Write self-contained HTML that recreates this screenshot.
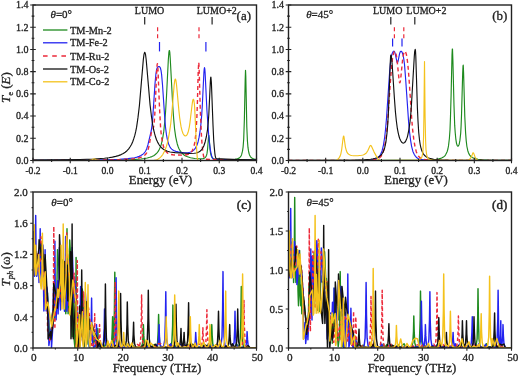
<!DOCTYPE html><html><head><meta charset="utf-8"><style>html,body{margin:0;padding:0;background:#fff}svg{display:block;filter:blur(0.35px)}</style></head><body>
<svg width="520" height="377" viewBox="0 0 520 377" font-family='"Liberation Serif", "DejaVu Serif", serif'>
<style>text{stroke:#222;stroke-width:0.3px;paint-order:stroke}</style>
<rect width="520" height="377" fill="#fff"/>
<defs>
<clipPath id="cla"><rect x="33.0" y="4.5" width="223.5" height="156.0"/></clipPath>
<clipPath id="clb"><rect x="288.5" y="4.5" width="223.0" height="156.0"/></clipPath>
<clipPath id="clc"><rect x="33.0" y="191.5" width="223.5" height="156.5"/></clipPath>
<clipPath id="cld"><rect x="288.5" y="191.5" width="223.0" height="156.5"/></clipPath>
</defs>
<g clip-path="url(#cla)" fill="none" stroke-width="1.15" stroke-linejoin="round">
<path d="M33.0,160.4 L102.7,160.2 L120.5,160.0 L132.4,159.6 L141.0,159.0 L144.5,158.5 L147.3,158.0 L149.8,157.3 L151.9,156.6 L153.7,155.7 L155.3,154.5 L156.8,153.1 L158.2,151.4 L159.4,149.3 L160.4,146.9 L161.3,144.2 L162.2,140.7 L162.9,136.8 L163.7,131.9 L164.7,122.5 L165.6,111.3 L166.5,96.3 L168.3,60.2 L168.9,52.4 L169.2,50.7 L169.3,50.5 L169.5,50.7 L169.8,52.4 L170.2,57.8 L172.8,106.7 L173.7,119.1 L174.5,128.3 L175.7,136.8 L176.5,140.6 L177.2,143.7 L178.1,146.5 L179.0,148.7 L180.1,150.7 L181.3,152.4 L183.0,154.2 L185.1,155.7 L187.5,156.8 L190.5,157.7 L194.8,158.5 L199.4,158.8 L202.7,158.7 L203.8,158.4 L204.6,158.0 L205.5,157.3 L206.1,156.3 L206.6,155.2 L207.0,153.4 L207.6,149.0 L208.5,137.0 L208.8,135.2 L209.1,137.1 L210.0,149.1 L210.6,153.5 L211.1,155.3 L211.5,156.5 L212.1,157.5 L213.0,158.3 L213.9,158.8 L215.1,159.2 L218.4,159.6 L224.9,159.8 L231.6,159.7 L235.0,159.4 L237.4,158.8 L239.1,158.1 L240.4,156.9 L241.0,156.0 L241.6,154.7 L242.5,151.2 L243.1,147.0 L243.7,139.3 L244.4,118.5 L245.2,79.3 L245.5,70.4 L245.6,71.4 L245.8,76.0 L246.8,126.7 L247.4,140.6 L248.0,147.7 L248.5,150.9 L248.9,153.0 L249.5,154.9 L250.4,156.6 L251.4,157.8 L252.6,158.5 L254.3,159.1 L256.5,159.6" stroke="#1e8a1e"/>
<path d="M33.0,160.3 L90.7,160.0 L107.4,159.7 L119.4,159.3 L128.1,158.6 L134.5,157.7 L137.0,157.1 L139.1,156.4 L140.9,155.6 L142.5,154.6 L143.9,153.4 L145.0,152.0 L145.9,150.5 L146.8,148.4 L147.9,144.9 L151.2,131.0 L152.1,124.7 L152.8,116.8 L155.0,83.9 L155.9,74.0 L156.5,70.1 L157.1,68.0 L157.4,67.4 L157.9,66.8 L158.8,66.5 L159.2,66.6 L159.6,66.8 L160.1,67.4 L160.4,68.0 L161.0,70.3 L161.6,74.4 L162.5,84.7 L164.9,120.1 L165.6,128.0 L166.5,134.9 L167.4,139.7 L168.6,143.9 L169.9,146.8 L170.8,148.1 L171.7,149.1 L172.9,150.0 L174.3,150.8 L175.9,151.4 L178.0,151.9 L181.0,152.4 L183.9,152.7 L186.3,152.8 L188.4,152.6 L189.9,152.3 L191.2,151.8 L192.4,151.2 L193.5,150.4 L194.5,149.3 L195.4,148.1 L196.9,145.2 L198.1,141.7 L199.1,137.2 L200.0,131.7 L200.9,124.1 L201.7,115.1 L202.3,105.7 L203.9,72.7 L204.2,69.0 L204.5,67.6 L204.8,68.9 L205.1,72.6 L206.9,110.0 L208.7,135.2 L209.6,144.1 L210.5,150.6 L211.4,155.0 L211.8,156.6 L212.4,158.0 L212.8,158.7 L213.4,159.1 L216.0,159.3 L232.4,159.8 L256.5,160.1" stroke="#2323f0"/>
<path d="M33.0,160.4 L94.7,160.2 L111.7,159.9 L123.3,159.6 L131.5,159.1 L137.3,158.3 L139.5,157.8 L141.3,157.2 L143.0,156.5 L144.3,155.6 L145.5,154.5 L146.5,153.1 L147.4,151.4 L148.2,149.3 L149.4,144.4 L151.3,132.8 L151.8,131.4 L152.6,130.3 L153.1,129.3 L153.8,125.6 L154.4,119.9 L155.0,111.0 L156.8,69.5 L157.1,65.1 L157.4,63.6 L157.7,65.4 L158.0,70.0 L159.5,107.6 L160.5,126.1 L161.1,133.0 L161.9,139.0 L162.8,143.9 L163.8,147.5 L165.0,150.1 L166.5,152.1 L167.4,152.9 L168.4,153.6 L170.8,154.4 L172.8,154.8 L175.3,155.0 L183.0,155.2 L186.6,154.8 L188.1,154.3 L189.3,153.8 L190.5,152.9 L191.5,151.7 L192.4,150.3 L193.3,148.2 L194.1,145.7 L194.7,142.9 L195.7,135.2 L196.3,127.8 L196.9,116.5 L197.5,99.3 L198.2,71.7 L198.7,62.4 L198.8,62.5 L199.1,67.8 L200.3,110.4 L201.5,136.6 L202.1,145.0 L202.9,152.1 L203.6,156.3 L204.3,158.5 L204.6,158.9 L205.1,159.2 L215.7,159.7 L232.2,160.0 L256.5,160.3" stroke="#ec2a3a" stroke-dasharray="4,3" stroke-width="1.4"/>
<path d="M33.0,160.1 L60.3,159.9 L79.8,159.5 L93.9,159.0 L104.4,158.2 L108.7,157.7 L112.4,157.1 L115.7,156.4 L118.5,155.6 L121.1,154.6 L123.3,153.5 L125.2,152.2 L127.0,150.7 L128.7,148.9 L130.1,146.8 L131.5,144.5 L132.7,141.8 L133.7,138.9 L134.8,135.4 L135.7,131.7 L136.6,127.2 L138.0,117.4 L139.4,105.6 L143.3,59.9 L144.0,54.3 L144.5,52.7 L144.7,52.3 L145.0,52.6 L145.5,54.3 L146.2,59.8 L150.1,105.1 L151.5,116.7 L152.8,125.5 L153.7,130.0 L154.6,133.7 L155.5,136.8 L156.5,139.8 L157.6,142.1 L158.8,144.3 L160.1,146.2 L161.6,147.8 L163.4,149.3 L165.3,150.4 L167.5,151.3 L170.1,152.0 L175.1,152.6 L189.7,153.5 L194.2,153.3 L196.0,153.0 L197.5,152.6 L198.8,152.0 L200.0,151.2 L201.1,150.3 L202.1,149.0 L203.0,147.5 L203.8,146.0 L205.2,141.7 L206.4,136.5 L207.5,129.8 L208.2,122.7 L208.8,114.7 L210.3,82.7 L210.6,78.1 L210.8,77.1 L210.9,77.1 L211.4,82.8 L213.0,125.0 L213.7,140.0 L214.2,146.6 L214.8,152.8 L215.2,155.8 L215.8,158.1 L216.3,158.6 L226.0,159.1 L239.2,159.6 L256.5,159.9" stroke="#111111"/>
<path d="M33.0,160.5 L86.3,160.5 L88.6,160.4 L90.7,160.0 L91.9,159.7 L93.5,159.0 L94.1,158.9 L94.7,159.0 L96.3,159.7 L97.8,160.1 L99.3,160.4 L101.1,160.5 L152.3,160.5 L154.0,160.4 L155.5,160.1 L156.8,159.7 L158.2,159.0 L159.8,157.9 L161.4,156.3 L162.8,154.5 L164.1,152.1 L165.3,149.4 L166.4,146.4 L167.4,142.8 L168.3,138.9 L169.6,131.7 L170.7,124.0 L171.9,112.2 L174.1,85.6 L174.7,80.9 L175.0,79.6 L175.3,79.0 L175.6,79.3 L175.9,80.4 L176.5,84.5 L178.9,110.6 L179.6,117.3 L180.4,122.7 L181.1,126.9 L182.0,130.6 L183.0,133.5 L184.1,135.2 L184.7,135.7 L185.3,135.9 L185.9,135.8 L186.5,135.4 L187.1,134.6 L187.5,133.8 L188.4,131.2 L189.3,127.1 L190.0,122.3 L192.0,105.5 L192.6,101.2 L192.9,99.9 L193.2,99.2 L193.3,99.2 L193.5,99.3 L193.8,100.2 L194.4,104.0 L194.7,108.1 L196.2,141.3 L196.8,151.7 L197.3,158.1 L197.6,159.8 L197.9,160.5 L256.5,160.5" stroke="#f4c21c"/>
</g>
<g clip-path="url(#clb)" fill="none" stroke-width="1.15" stroke-linejoin="round">
<path d="M288.5,160.5 L387.2,160.4 L421.6,160.1 L430.6,159.8 L436.6,159.2 L438.8,158.9 L440.6,158.4 L442.1,157.8 L443.4,157.1 L444.6,156.1 L445.6,154.8 L446.5,153.1 L447.3,151.2 L447.9,149.0 L448.5,145.9 L449.4,138.3 L450.0,129.8 L450.5,116.3 L451.1,95.3 L452.0,55.4 L452.3,49.1 L452.5,49.0 L452.9,60.6 L454.0,105.8 L454.7,125.4 L455.2,132.5 L455.8,138.8 L456.5,143.3 L457.2,145.5 L457.7,146.1 L458.0,146.2 L458.3,146.0 L458.7,145.4 L459.2,144.2 L459.9,140.4 L460.7,133.1 L461.1,125.9 L461.5,115.5 L462.7,72.7 L463.0,66.0 L463.2,65.1 L463.3,66.1 L463.6,73.0 L464.8,116.7 L465.6,132.9 L466.2,140.6 L466.9,146.5 L467.8,150.7 L468.4,152.5 L469.0,153.9 L469.7,155.1 L470.5,156.0 L471.4,156.8 L472.3,157.4 L473.4,158.0 L474.8,158.5 L478.0,159.2 L482.5,159.7 L488.9,160.0 L511.5,160.3" stroke="#1e8a1e"/>
<path d="M288.5,160.5 L350.6,160.5 L366.1,160.3 L370.9,160.0 L374.1,159.4 L376.7,158.5 L377.7,157.9 L378.6,157.1 L379.6,155.9 L380.5,154.5 L381.4,152.6 L382.2,150.5 L383.5,144.8 L384.7,137.0 L385.6,128.7 L386.5,118.2 L389.7,70.8 L390.6,61.8 L391.5,56.0 L392.1,53.7 L392.9,51.9 L393.6,51.2 L394.1,51.3 L394.4,51.5 L394.8,52.3 L395.2,53.7 L396.9,61.7 L397.2,62.5 L397.5,62.6 L397.8,62.2 L398.1,61.2 L399.7,53.2 L400.3,51.7 L400.6,51.4 L401.0,51.2 L401.6,51.6 L402.1,52.2 L403.0,54.7 L403.7,58.5 L404.5,64.4 L405.6,78.5 L408.6,121.9 L409.5,131.7 L410.6,140.3 L411.6,146.3 L412.9,151.4 L414.3,154.5 L415.2,155.9 L416.1,157.0 L416.9,157.8 L418.0,158.4 L419.2,159.0 L420.5,159.4 L423.8,160.0 L428.7,160.3 L444.6,160.5 L511.5,160.5" stroke="#2323f0"/>
<path d="M288.5,160.5 L353.3,160.5 L368.3,160.3 L372.9,160.0 L376.1,159.4 L378.4,158.5 L379.5,157.8 L380.4,157.0 L381.3,156.0 L382.2,154.5 L383.5,151.1 L384.8,145.7 L385.9,139.2 L386.9,130.1 L387.8,119.7 L390.5,80.0 L391.7,65.4 L392.4,59.0 L393.2,54.8 L393.9,52.3 L394.4,51.5 L394.8,51.2 L395.2,51.5 L395.7,52.4 L396.4,55.7 L397.2,61.4 L399.0,79.3 L399.4,81.9 L399.7,82.7 L399.9,82.7 L400.3,81.6 L400.7,78.8 L402.5,60.7 L403.1,56.1 L403.6,53.8 L404.2,51.9 L404.5,51.4 L404.9,51.2 L405.2,51.4 L405.6,52.1 L406.4,54.4 L407.4,60.7 L408.3,69.4 L409.2,81.0 L411.7,118.7 L412.6,129.3 L413.7,138.7 L414.9,146.1 L416.2,151.4 L416.9,153.4 L417.7,154.9 L418.6,156.3 L419.6,157.4 L420.5,158.1 L421.6,158.7 L423.9,159.5 L427.2,160.0 L431.8,160.3 L447.0,160.5 L511.5,160.5" stroke="#ec2a3a" stroke-dasharray="4,3" stroke-width="1.4"/>
<path d="M288.5,160.4 L342.0,160.3 L355.3,160.1 L364.2,159.7 L370.6,159.2 L373.1,158.8 L375.2,158.3 L377.0,157.7 L378.4,157.0 L379.8,156.2 L381.0,155.1 L382.0,153.8 L383.1,152.1 L383.9,150.0 L384.7,147.7 L385.9,142.1 L386.9,134.0 L387.7,125.0 L388.3,114.8 L389.0,97.6 L390.2,64.0 L390.6,56.3 L390.8,55.2 L390.9,55.0 L391.2,55.6 L391.5,57.3 L392.1,63.5 L394.4,98.2 L395.4,111.6 L396.3,120.5 L397.3,128.2 L398.1,132.3 L398.8,135.5 L399.7,138.5 L400.6,140.5 L401.5,142.0 L402.5,142.9 L403.0,143.0 L403.6,143.1 L404.2,142.8 L404.6,142.5 L405.5,141.5 L406.2,140.1 L407.0,138.1 L407.6,136.1 L408.9,129.6 L410.0,121.9 L410.9,112.7 L411.7,100.5 L414.3,56.2 L414.7,51.4 L415.2,49.4 L415.3,49.6 L415.5,50.7 L415.8,56.2 L417.4,107.9 L418.0,121.0 L418.7,132.2 L419.6,140.7 L420.2,144.5 L420.8,147.3 L421.6,150.0 L422.3,151.9 L423.2,153.6 L424.2,155.0 L425.3,156.1 L426.5,156.9 L427.9,157.7 L429.6,158.3 L433.7,159.2 L439.8,159.7 L448.2,160.1 L460.5,160.3 L511.5,160.4" stroke="#111111"/>
<path d="M288.5,160.5 L335.0,160.5 L336.5,160.2 L337.7,159.4 L338.9,158.1 L340.1,156.1 L340.8,154.1 L341.7,149.5 L343.1,138.0 L343.5,136.0 L343.7,136.0 L344.0,137.0 L345.4,147.1 L346.5,151.1 L347.2,152.7 L348.1,153.8 L349.2,154.6 L350.5,155.2 L351.8,155.5 L353.6,155.7 L357.9,155.7 L361.6,155.3 L363.0,155.0 L364.2,154.5 L365.7,153.6 L366.8,152.3 L367.9,150.5 L369.8,146.2 L370.3,145.6 L370.7,145.4 L371.2,145.7 L371.6,146.5 L374.1,152.1 L377.6,158.4 L378.6,159.6 L379.2,160.0 L379.9,160.3 L381.4,160.5 L403.4,160.4 L412.8,160.3 L415.8,160.2 L417.8,159.9 L419.3,159.5 L420.4,159.0 L421.0,158.4 L421.6,157.6 L422.0,156.5 L422.4,154.7 L422.9,151.4 L423.3,144.6 L423.6,135.4 L423.9,117.6 L424.5,61.6 L425.1,117.6 L425.6,140.7 L426.0,149.7 L426.5,153.8 L427.1,156.5 L427.5,157.6 L428.1,158.4 L429.0,159.2 L430.3,159.7 L432.1,160.0 L434.6,160.2 L445.3,160.4 L467.0,160.4 L468.1,160.2 L469.0,159.8 L469.7,159.2 L470.6,158.2 L471.5,156.7 L472.8,153.1 L473.1,152.7 L473.3,152.7 L473.7,153.4 L475.1,157.0 L476.0,158.5 L477.0,159.8 L477.6,160.2 L478.2,160.4 L511.5,160.5" stroke="#f4c21c"/>
</g>
<g clip-path="url(#clc)" fill="none" stroke-width="1.45" stroke-linejoin="round">
<path d="M33.0,258.2 L33.5,267.8 L36.0,256.1 L36.4,275.8 L38.4,260.1 L39.0,255.6 L40.9,255.9 L41.2,242.1 L42.9,259.0 L43.3,256.6 L45.3,268.0 L45.6,306.7 L47.0,294.8 L47.5,292.9 L49.2,327.5 L49.6,337.0 L51.7,325.9 L52.1,314.7 L54.3,304.7 L54.8,318.9 L56.9,289.8 L57.5,249.7 L59.6,275.1 L60.2,299.6 L62.0,265.5 L62.5,259.9 L64.6,267.0 L64.9,299.0 L65.8,313.7 L66.6,288.2 L67.0,228.7 L67.4,288.2 L68.1,313.7 L69.3,273.1 L69.7,240.0 L71.8,274.9 L72.2,336.7 L73.7,292.9 L74.2,340.5 L75.0,348.0 L75.7,320.9 L76.1,257.5 L76.5,320.9 L77.3,348.0 L79.0,315.8 L79.5,346.7 L82.0,307.8 L82.3,289.0 L83.7,316.1 L84.0,347.1 L86.4,318.8 L86.9,344.2 L88.8,325.9 L89.2,346.9 L90.7,329.9 L91.2,327.8 L93.1,334.8 L93.4,344.0 L95.2,338.7 L95.6,335.2 L95.8,346.8 L96.8,344.6 L97.5,337.9 L97.8,328.5 L98.2,337.9 L98.8,344.6 L99.8,346.8 L100.0,342.6 L100.6,347.0 L102.5,347.3 L104.3,346.7 L105.7,343.9 L106.9,347.5 L108.6,345.9 L109.9,344.8 L110.6,346.6 L111.6,343.0 L112.2,332.0 L112.6,316.8 L112.8,345.7 L113.8,336.7 L114.4,309.8 L114.8,272.3 L115.2,309.8 L115.8,336.7 L116.8,345.7 L117.8,345.4 L119.8,347.5 L121.9,347.5 L123.2,347.5 L125.3,347.5 L126.9,345.2 L128.9,347.5 L130.6,347.5 L132.8,345.2 L134.1,347.5 L135.9,347.5 L137.3,347.5 L138.5,347.5 L139.8,347.5 L141.4,346.8 L142.4,344.1 L143.1,335.9 L143.4,324.6 L143.8,335.9 L144.4,344.1 L145.4,346.8 L146.1,344.2 L148.4,347.5 L150.9,347.5 L153.3,345.4 L154.6,344.6 L156.6,346.6 L157.6,342.6 L158.2,330.8 L158.6,314.5 L159.0,330.8 L159.6,342.6 L160.6,346.6 L160.8,347.5 L162.0,347.5 L163.9,347.5 L165.2,347.5 L166.4,347.5 L168.3,347.5 L169.5,344.7 L170.9,346.4 L171.9,341.3 L172.6,326.2 L172.9,305.1 L173.3,326.2 L173.9,341.3 L174.9,346.4 L175.8,346.2 L178.0,347.5 L180.0,347.5 L182.7,347.5 L184.1,345.0 L185.4,347.5 L187.0,345.0 L189.2,344.4 L190.6,347.5 L192.3,346.2 L194.4,344.4 L196.6,347.5 L198.2,347.5 L199.8,347.3 L201.6,346.3 L202.7,344.6 L204.1,346.5 L206.5,347.5 L208.5,343.9 L209.6,347.5 L209.8,346.8 L210.8,344.1 L211.4,335.9 L211.8,324.6 L212.2,335.9 L212.8,344.1 L213.8,346.8 L214.4,347.5 L215.9,344.7 L218.5,347.5 L219.7,347.5 L222.2,347.5 L224.3,347.5 L226.0,347.5 L228.1,347.5 L230.4,347.5 L232.1,347.5 L234.6,347.5 L236.5,343.8 L238.8,347.5 L239.3,346.0 L240.3,338.7 L240.9,316.8 L241.3,286.4 L241.7,316.8 L242.3,338.7 L243.3,346.0 L243.4,347.5 L245.7,347.5 L247.4,347.5 L250.0,348.0 L252.2,348.0 L253.9,348.0 L256.2,348.0 L256.5,348.0" stroke="#1e8a1e"/>
<path d="M33.0,249.8 L33.6,231.7 L34.5,276.2 L35.3,258.0 L35.7,215.4 L36.1,258.0 L36.8,276.2 L38.3,254.9 L38.6,257.4 L39.0,282.5 L39.7,266.3 L40.2,228.7 L40.6,266.3 L41.3,282.5 L42.5,258.6 L42.9,245.0 L43.9,310.9 L44.7,292.6 L45.1,249.7 L45.5,292.6 L46.2,310.9 L46.8,287.0 L47.2,288.8 L48.5,317.8 L48.9,345.5 L51.2,328.9 L51.5,347.8 L52.9,325.3 L53.5,289.3 L53.7,319.7 L54.5,296.1 L54.9,241.1 L55.3,296.1 L56.1,319.7 L57.6,280.8 L58.1,313.9 L58.2,310.0 L59.0,291.2 L59.4,247.4 L59.8,291.2 L60.5,310.0 L62.8,282.3 L63.4,296.4 L64.5,311.3 L65.2,288.9 L65.6,236.5 L66.0,288.9 L66.8,311.3 L69.1,279.1 L69.4,260.0 L71.8,286.4 L72.2,247.6 L74.1,302.2 L74.6,276.9 L77.3,318.8 L77.7,317.7 L80.1,319.5 L80.6,286.6 L82.0,313.4 L82.4,308.3 L84.8,318.3 L85.3,292.5 L87.4,322.1 L87.8,318.5 L89.5,347.0 L90.6,341.0 L91.2,323.0 L91.6,298.1 L91.9,323.0 L92.5,341.0 L93.6,347.0 L94.5,346.8 L95.5,344.1 L96.1,335.9 L96.5,324.6 L96.8,335.9 L97.5,344.1 L98.5,346.8 L99.7,342.9 L100.1,342.3 L101.5,347.5 L102.5,346.5 L103.5,341.9 L104.2,328.1 L104.5,309.0 L104.9,328.1 L105.5,341.9 L106.5,346.5 L107.5,346.9 L110.1,346.2 L112.0,343.8 L114.1,345.8 L115.2,337.5 L115.8,312.5 L116.1,277.8 L116.5,312.5 L117.1,337.5 L118.2,345.8 L119.2,346.4 L121.7,347.5 L123.9,347.5 L126.0,347.1 L128.6,345.9 L130.3,346.6 L131.6,346.8 L133.4,347.5 L134.9,347.5 L137.2,347.5 L138.7,347.5 L140.1,346.6 L142.1,347.4 L144.6,347.5 L145.8,347.5 L147.7,346.8 L150.3,347.5 L151.8,347.5 L154.4,347.5 L156.9,344.7 L157.0,346.8 L158.1,344.1 L158.7,335.9 L159.1,324.6 L159.4,335.9 L160.0,344.1 L161.1,346.8 L161.5,347.5 L163.7,346.1 L164.8,339.5 L165.4,319.5 L165.8,291.8 L166.1,319.5 L166.7,339.5 L167.8,346.1 L168.7,347.5 L170.6,343.8 L172.2,347.5 L174.5,347.5 L176.5,347.5 L178.9,344.5 L181.2,344.3 L182.9,347.5 L184.5,344.8 L186.3,347.5 L187.7,347.5 L189.5,344.5 L192.0,346.3 L193.7,346.9 L194.7,345.1 L195.4,339.8 L195.7,332.4 L196.1,339.8 L196.7,345.1 L197.7,346.9 L198.5,347.5 L201.1,347.5 L203.1,347.4 L205.2,347.2 L206.9,345.9 L209.5,347.5 L212.2,345.3 L213.4,347.3 L214.6,347.4 L216.3,345.3 L217.5,344.2 L218.7,347.5 L219.8,347.5 L221.0,345.7 L222.0,336.6 L222.6,309.4 L223.0,271.6 L223.3,309.4 L224.0,336.6 L225.0,345.7 L227.2,345.9 L229.5,347.5 L232.1,346.7 L233.0,346.5 L234.1,342.2 L234.7,329.3 L235.0,311.3 L235.4,329.3 L236.0,342.2 L237.1,346.5 L238.0,347.5 L240.5,347.5 L243.0,347.5 L244.9,346.8 L245.1,346.9 L246.1,345.0 L246.8,339.4 L247.1,331.6 L247.5,339.4 L248.1,345.0 L249.1,346.9 L249.7,348.0 L251.1,348.0 L253.6,348.0 L255.1,348.0 L256.5,348.0 L256.5,348.0" stroke="#2323f0"/>
<path d="M33.0,258.2 L33.3,267.8 L35.4,256.4 L35.8,275.6 L37.9,253.8 L38.5,271.6 L40.5,258.5 L41.0,236.7 L43.3,263.7 L43.7,289.9 L45.1,272.4 L45.6,308.7 L47.1,294.8 L47.6,330.9 L49.5,331.6 L49.8,340.4 L51.8,329.1 L52.3,315.6 L52.6,328.9 L53.4,298.1 L53.8,226.3 L54.2,298.1 L54.9,328.9 L55.1,314.6 L57.7,288.5 L58.3,302.8 L60.3,274.5 L60.9,299.5 L63.1,263.0 L63.5,294.4 L66.1,272.2 L66.7,232.9 L68.6,277.0 L69.2,313.0 L71.3,276.7 L71.8,254.3 L73.7,293.2 L74.1,273.1 L75.6,310.4 L76.0,295.7 L76.1,348.0 L76.8,321.8 L77.3,260.6 L77.7,321.8 L78.4,348.0 L79.7,321.3 L80.3,342.7 L82.9,314.7 L83.2,291.5 L85.4,317.3 L86.0,337.2 L88.2,326.1 L88.5,307.6 L90.7,326.6 L91.3,344.3 L92.7,347.3 L93.7,343.2 L94.3,330.8 L94.7,313.7 L95.0,330.8 L95.7,343.2 L96.7,347.3 L97.2,339.3 L97.6,346.8 L98.6,344.1 L99.2,335.9 L99.6,324.6 L100.0,335.9 L100.6,344.1 L101.6,346.8 L101.8,347.5 L104.4,347.5 L105.9,347.5 L107.0,347.5 L108.6,347.5 L111.1,347.5 L113.2,345.9 L114.3,338.0 L114.9,314.5 L115.2,281.7 L115.6,314.5 L116.2,338.0 L117.3,345.9 L118.7,347.5 L120.6,347.5 L122.6,347.5 L124.2,344.7 L126.7,347.0 L129.3,347.5 L130.5,347.0 L131.8,346.4 L133.9,347.5 L135.3,347.5 L136.7,343.9 L138.2,344.9 L139.5,347.5 L139.6,346.2 L140.6,339.9 L141.3,321.1 L141.6,295.0 L142.0,321.1 L142.6,339.9 L143.6,346.2 L144.0,347.5 L145.8,347.5 L147.1,347.1 L148.8,347.5 L151.0,347.5 L152.2,347.1 L154.9,347.5 L156.7,343.7 L159.1,343.8 L161.1,343.9 L162.3,347.5 L164.7,347.5 L166.5,347.5 L168.2,345.7 L170.9,347.5 L172.5,345.8 L174.8,345.7 L176.9,344.6 L179.4,347.5 L180.9,347.5 L183.4,345.2 L185.9,347.5 L188.2,344.4 L189.6,347.5 L191.0,347.5 L193.2,345.6 L195.6,347.1 L198.3,343.9 L200.1,344.5 L200.8,346.8 L201.9,344.5 L202.5,337.5 L202.9,327.7 L203.2,337.5 L203.8,344.5 L204.9,346.5 L205.9,342.0 L206.5,328.5 L206.9,309.8 L207.2,328.5 L207.9,342.0 L208.9,346.5 L209.0,347.5 L210.2,347.5 L211.9,347.5 L213.6,347.2 L214.9,346.0 L216.1,347.5 L217.8,345.2 L220.3,346.6 L221.9,347.5 L224.3,347.5 L226.4,346.7 L227.8,347.5 L230.4,347.5 L232.9,347.5 L234.0,347.5 L235.6,347.5 L237.9,347.5 L239.8,347.5 L242.0,346.3 L243.0,340.7 L243.6,323.8 L244.0,300.4 L244.3,323.8 L245.0,340.7 L246.0,346.3 L246.5,347.5 L248.5,347.5 L250.0,348.0 L252.2,348.0 L254.7,348.0 L256.2,348.0 L256.5,348.0" stroke="#ec2a3a" stroke-dasharray="3.5,2.5"/>
<path d="M33.0,242.1 L33.5,267.6 L35.7,251.6 L36.0,272.8 L38.8,249.3 L39.1,239.7 L41.9,259.5 L42.2,243.7 L44.5,271.9 L45.1,254.6 L47.5,299.2 L48.1,339.0 L50.5,331.8 L51.0,339.2 L53.1,322.8 L53.7,283.6 L56.9,298.8 L57.3,308.1 L59.2,285.8 L59.5,234.7 L61.3,271.7 L61.6,301.5 L64.5,261.4 L65.1,298.3 L67.4,265.2 L67.8,300.8 L70.1,266.3 L70.5,251.6 L71.0,338.7 L71.7,304.3 L72.1,224.0 L72.5,304.3 L73.3,338.7 L73.7,331.6 L75.8,298.7 L76.3,344.1 L77.9,346.3 L79.0,336.2 L79.6,305.9 L79.7,346.4 L80.7,337.1 L81.4,309.0 L81.7,270.0 L82.1,309.0 L82.7,337.1 L83.7,346.4 L85.8,316.9 L86.4,301.7 L89.1,319.8 L89.6,329.6 L91.9,327.0 L92.2,324.9 L94.7,334.8 L95.0,333.7 L97.1,338.3 L97.5,347.5 L99.9,341.6 L100.3,347.0 L102.6,347.5 L103.4,346.0 L104.4,338.4 L105.1,315.6 L105.4,284.0 L105.8,315.6 L106.4,338.4 L107.4,346.0 L109.6,344.4 L110.7,347.5 L111.9,347.5 L113.4,347.5 L115.6,345.2 L117.1,347.5 L118.6,346.1 L119.6,339.7 L120.3,320.3 L120.6,293.4 L121.0,320.3 L121.6,339.7 L122.6,346.1 L123.0,344.4 L124.9,345.2 L125.3,346.3 L126.3,340.9 L127.0,324.6 L127.3,302.0 L127.7,324.6 L128.3,340.9 L129.3,346.3 L129.6,347.5 L131.1,347.5 L131.6,346.7 L132.6,343.7 L133.2,334.7 L133.6,322.3 L133.9,334.7 L134.6,343.7 L135.6,346.7 L135.7,347.5 L137.6,347.5 L139.8,347.5 L141.7,346.7 L144.3,344.3 L145.6,347.5 L146.3,346.1 L147.3,339.2 L148.0,318.8 L148.3,290.3 L148.7,318.8 L149.3,339.2 L150.3,346.1 L151.1,346.2 L152.3,347.5 L153.5,346.0 L155.4,344.2 L157.5,347.5 L159.1,347.5 L160.6,347.5 L162.7,347.5 L164.5,346.9 L166.1,347.5 L167.7,347.5 L169.8,347.5 L171.6,347.5 L173.8,347.5 L174.0,346.4 L175.1,341.2 L175.7,325.8 L176.0,304.3 L176.4,325.8 L177.0,341.2 L178.1,346.4 L178.5,347.5 L178.9,346.8 L180.0,344.6 L180.6,337.9 L181.0,328.5 L181.3,337.9 L181.9,344.6 L182.1,346.9 L183.1,345.1 L183.7,339.8 L184.1,332.4 L184.4,339.8 L185.1,345.1 L186.1,346.9 L186.5,346.3 L187.6,341.0 L188.2,325.0 L188.6,302.8 L188.9,325.0 L189.5,341.0 L190.6,346.3 L192.7,344.3 L194.5,347.5 L195.8,347.5 L198.3,347.4 L199.5,347.5 L201.3,347.5 L203.0,347.5 L204.5,345.0 L206.8,345.7 L208.3,347.3 L209.7,347.5 L212.4,347.5 L213.9,347.5 L216.5,346.5 L217.5,342.2 L218.1,329.3 L218.5,311.3 L218.9,329.3 L219.5,342.2 L220.5,346.5 L222.6,347.5 L224.1,347.5 L225.9,346.0 L227.7,346.8 L228.7,344.1 L229.3,335.9 L229.7,324.6 L230.0,335.9 L230.7,344.1 L231.7,346.8 L232.4,343.8 L234.5,346.9 L235.7,346.5 L236.7,341.9 L237.4,328.1 L237.7,309.0 L238.1,328.1 L238.7,341.9 L239.7,346.5 L240.1,347.5 L242.0,347.5 L243.2,347.5 L244.9,347.5 L246.2,347.5 L247.8,345.6 L250.4,348.0 L253.1,348.0 L255.4,348.0 L256.5,348.0 L256.5,348.0" stroke="#111111"/>
<path d="M33.0,242.5 L33.2,275.1 L33.9,260.0 L34.3,224.8 L34.7,260.0 L35.5,275.1 L35.8,245.3 L36.1,274.9 L38.9,254.4 L39.3,274.1 L41.2,288.9 L42.0,272.2 L42.4,233.3 L42.8,272.2 L43.5,288.9 L45.2,271.8 L45.6,309.4 L47.7,302.3 L48.1,303.8 L51.1,323.0 L51.7,326.3 L54.9,308.7 L55.2,311.0 L57.9,289.5 L58.5,297.5 L60.7,278.7 L61.1,245.3 L62.0,309.0 L62.8,283.5 L63.2,224.0 L63.6,283.5 L64.3,309.0 L66.1,275.1 L66.6,235.6 L69.3,274.0 L69.8,315.0 L72.8,280.0 L73.4,282.5 L76.0,302.3 L76.5,347.7 L79.6,314.6 L80.0,347.0 L82.5,311.8 L83.0,343.8 L83.3,346.7 L84.3,338.8 L84.9,315.2 L85.3,282.5 L85.7,315.2 L86.0,346.7 L87.0,339.2 L87.6,316.4 L88.0,284.8 L88.3,316.4 L89.0,339.2 L90.0,346.7 L91.2,329.2 L91.6,322.4 L93.4,334.9 L93.9,332.1 L96.4,339.3 L96.8,339.3 L99.8,341.8 L100.2,341.5 L102.7,347.5 L104.2,347.5 L106.5,347.5 L108.0,340.9 L109.4,347.5 L111.7,340.4 L113.5,347.5 L115.5,347.5 L116.7,347.5 L116.8,346.1 L117.8,339.4 L118.5,319.1 L118.8,291.1 L119.2,319.1 L119.8,339.4 L120.8,346.1 L121.7,346.9 L122.8,345.1 L123.4,339.8 L123.7,332.4 L124.1,339.8 L124.7,345.1 L125.8,346.9 L126.3,347.5 L127.6,343.5 L129.5,347.5 L131.9,342.9 L133.1,347.5 L134.7,347.5 L136.5,347.5 L139.1,347.0 L141.8,347.5 L143.3,347.5 L144.6,347.5 L146.0,340.0 L147.6,341.0 L149.0,347.5 L150.5,342.9 L152.9,345.0 L154.9,347.5 L156.4,347.5 L159.0,347.5 L161.2,347.5 L162.8,347.5 L164.2,346.6 L165.2,343.0 L165.8,332.0 L166.2,316.8 L166.6,332.0 L167.2,343.0 L168.2,346.6 L170.5,347.5 L171.7,347.5 L172.7,346.2 L173.7,339.9 L174.3,321.1 L174.7,295.0 L175.1,321.1 L175.7,339.9 L176.7,346.2 L177.7,342.7 L180.3,347.5 L182.9,347.5 L184.9,346.8 L187.4,347.5 L188.3,346.6 L189.4,343.0 L190.0,332.0 L190.3,316.8 L190.7,332.0 L191.3,343.0 L192.4,346.6 L192.9,347.5 L195.1,343.1 L196.3,347.5 L197.3,346.8 L198.3,344.1 L198.9,335.9 L199.3,324.6 L199.6,335.9 L200.3,344.1 L201.3,346.8 L203.7,342.2 L206.1,347.5 L208.0,346.8 L209.0,344.1 L209.7,335.9 L210.0,324.6 L210.4,335.9 L211.0,344.1 L212.0,346.8 L213.2,347.5 L215.6,344.7 L218.2,347.5 L220.1,340.2 L221.7,346.3 L223.5,347.5 L223.6,346.1 L224.7,339.4 L225.3,319.1 L225.7,291.1 L226.0,319.1 L226.6,339.4 L227.7,346.1 L230.1,347.5 L232.4,347.5 L233.7,347.5 L236.3,347.5 L237.9,347.5 L239.9,347.5 L240.6,345.8 L241.7,337.0 L242.3,310.6 L242.6,273.9 L243.0,310.6 L243.6,337.0 L244.7,345.8 L245.0,347.5 L246.5,347.5 L247.6,347.5 L249.7,348.0 L251.7,348.0 L253.9,348.0 L255.4,348.0 L256.5,348.0" stroke="#f4c21c"/>
</g>
<g clip-path="url(#cld)" fill="none" stroke-width="1.45" stroke-linejoin="round">
<path d="M288.5,264.0 L289.0,242.3 L291.6,261.9 L292.0,242.0 L293.3,261.2 L293.6,282.5 L294.3,257.0 L294.7,197.5 L295.1,257.0 L295.9,282.5 L297.7,262.9 L298.0,290.4 L298.5,305.8 L299.2,289.2 L299.6,250.5 L300.1,289.2 L300.8,305.8 L301.3,285.0 L301.8,313.8 L303.4,301.6 L304.0,301.3 L306.3,324.7 L306.8,331.7 L308.5,312.5 L309.0,284.1 L311.2,299.4 L311.7,309.2 L313.6,288.0 L314.1,252.5 L316.3,289.0 L316.6,248.5 L319.2,277.2 L319.6,311.4 L320.9,275.8 L321.4,280.7 L324.1,283.7 L324.6,251.7 L326.0,284.5 L326.4,278.4 L327.7,295.4 L328.2,323.4 L329.8,315.6 L330.4,317.8 L331.8,322.1 L332.3,343.2 L333.8,314.2 L334.2,288.3 L335.7,319.7 L336.2,314.1 L338.2,346.5 L339.3,337.3 L339.9,309.8 L340.2,271.6 L340.6,309.8 L341.2,337.3 L342.2,346.5 L342.4,314.3 L342.8,338.8 L344.5,320.6 L344.9,347.5 L347.5,321.9 L348.1,311.5 L349.6,330.2 L350.0,344.0 L351.5,335.2 L352.1,330.7 L354.9,338.5 L355.2,338.4 L357.0,347.5 L358.7,344.5 L361.4,346.9 L363.1,345.1 L364.3,346.8 L366.5,347.5 L368.2,347.5 L370.5,347.5 L372.0,345.6 L373.9,346.1 L375.5,347.5 L377.2,347.5 L379.5,347.5 L381.2,347.5 L383.4,344.1 L384.7,347.5 L387.2,344.3 L389.5,347.5 L392.1,344.9 L393.3,347.0 L395.7,347.5 L398.1,344.6 L400.0,347.5 L402.0,345.8 L404.1,343.8 L406.0,347.5 L407.4,346.8 L409.4,347.5 L411.8,346.6 L412.8,342.9 L413.5,331.6 L413.8,316.0 L414.2,331.6 L414.8,342.9 L415.8,346.6 L417.5,347.5 L418.5,346.1 L419.5,339.4 L420.2,319.1 L420.5,291.1 L420.9,319.1 L421.5,339.4 L422.5,346.1 L424.3,345.0 L426.4,347.5 L428.2,347.3 L430.7,347.5 L431.9,347.5 L433.5,347.5 L436.0,347.5 L437.4,344.4 L439.2,347.5 L440.3,347.5 L442.8,347.5 L445.1,347.4 L447.4,347.5 L449.1,347.5 L451.4,347.5 L453.7,347.5 L455.5,347.5 L456.7,347.5 L458.8,347.5 L460.7,344.7 L462.8,347.5 L464.8,347.5 L466.2,347.5 L467.6,347.5 L469.5,347.5 L471.8,347.5 L473.1,347.5 L474.7,347.5 L476.0,346.1 L477.1,339.0 L477.7,318.0 L478.0,288.7 L478.4,318.0 L479.0,339.0 L480.1,346.1 L481.5,347.5 L484.0,347.0 L486.4,343.7 L488.0,347.5 L490.0,346.8 L492.4,347.5 L494.2,345.1 L495.6,347.5 L497.0,347.5 L498.8,347.5 L501.1,344.2 L502.9,347.5 L505.5,348.0 L507.2,348.0 L509.3,348.0 L510.5,348.0 L511.5,348.0" stroke="#1e8a1e"/>
<path d="M288.5,263.6 L288.8,241.1 L289.6,277.8 L290.3,257.0 L290.7,208.4 L291.1,257.0 L291.9,277.8 L294.1,256.5 L294.5,241.4 L296.6,262.8 L296.9,284.6 L298.5,269.6 L299.0,250.7 L300.5,276.2 L301.0,265.1 L303.1,292.8 L303.6,338.7 L305.1,322.6 L305.7,343.5 L307.5,324.9 L307.9,339.7 L309.2,312.6 L309.6,320.0 L310.4,298.7 L310.8,248.9 L311.2,298.7 L312.0,320.0 L312.2,256.2 L313.8,284.6 L314.3,306.5 L316.4,278.9 L316.8,240.7 L318.7,271.7 L319.0,267.1 L320.9,282.3 L321.3,248.0 L323.8,284.3 L324.2,308.3 L326.8,301.0 L327.1,339.1 L329.5,315.8 L329.8,312.9 L332.1,314.0 L332.5,302.3 L333.8,313.1 L334.1,288.1 L335.7,302.9 L336.2,338.5 L337.9,298.4 L338.5,280.8 L340.7,303.9 L341.1,286.4 L343.1,312.2 L343.7,347.6 L345.2,312.2 L345.5,342.4 L345.8,346.5 L346.8,337.6 L347.5,310.9 L347.8,273.9 L348.2,310.9 L348.8,337.6 L348.9,347.2 L350.0,342.4 L350.6,328.1 L350.9,308.2 L351.3,328.1 L351.9,342.4 L352.9,347.2 L353.2,331.9 L353.5,347.7 L355.3,338.3 L355.6,339.8 L357.5,345.8 L358.6,347.5 L360.3,347.5 L362.0,347.5 L363.4,347.5 L364.1,345.9 L365.1,338.2 L365.7,314.9 L366.1,282.5 L366.5,314.9 L367.1,338.2 L368.1,345.9 L370.3,347.5 L371.9,347.5 L373.5,347.5 L375.2,347.5 L377.3,347.5 L378.5,347.5 L379.7,347.5 L381.7,344.0 L383.0,347.5 L385.4,347.5 L387.2,347.5 L388.5,347.5 L391.0,344.6 L393.6,347.5 L395.7,346.6 L397.3,347.5 L399.5,347.5 L402.0,347.5 L404.5,347.0 L406.2,346.8 L408.8,346.7 L410.3,347.5 L412.3,346.3 L414.4,347.5 L416.6,346.9 L418.3,347.0 L419.4,346.3 L420.4,340.8 L421.1,324.2 L421.4,301.2 L421.8,324.2 L422.4,340.8 L423.4,346.8 L424.4,344.1 L425.1,335.9 L425.4,324.6 L425.8,335.9 L426.4,344.1 L427.4,346.8 L427.9,346.1 L428.9,339.5 L429.5,319.5 L429.9,291.8 L430.2,319.5 L430.9,339.5 L431.9,346.1 L433.2,345.4 L434.6,347.5 L436.4,345.5 L438.9,347.5 L440.3,347.5 L442.7,346.4 L444.1,347.5 L445.9,347.5 L447.5,346.4 L449.9,347.5 L451.1,346.9 L452.1,345.1 L452.7,339.8 L453.1,332.4 L453.4,339.8 L454.1,345.1 L455.1,346.9 L455.4,343.8 L457.1,347.5 L459.6,344.1 L461.3,347.5 L462.9,347.5 L465.0,347.5 L467.7,345.7 L469.4,347.5 L470.2,346.6 L471.3,343.0 L471.9,332.0 L472.3,316.8 L472.6,332.0 L473.2,343.0 L474.3,346.6 L475.9,345.0 L477.4,347.5 L478.9,343.7 L480.5,347.5 L481.7,347.5 L483.2,347.5 L484.4,347.5 L485.5,344.4 L487.9,347.5 L489.4,347.5 L491.3,347.5 L493.6,347.5 L494.8,347.5 L495.9,347.5 L496.1,346.1 L497.1,339.2 L497.8,318.8 L498.1,290.3 L498.5,318.8 L498.8,346.7 L499.8,343.5 L500.4,334.0 L500.8,320.7 L501.0,346.8 L502.0,344.1 L502.7,335.9 L503.0,324.6 L503.4,335.9 L504.0,344.1 L505.0,346.8 L506.7,348.0 L508.7,348.0 L511.1,348.0 L511.5,348.0" stroke="#2323f0"/>
<path d="M288.5,250.2 L288.9,276.1 L291.1,248.2 L291.7,243.2 L293.9,255.7 L294.4,272.7 L296.4,255.4 L296.7,245.9 L298.9,262.0 L299.3,256.8 L301.1,272.4 L301.4,266.5 L303.8,302.9 L304.1,309.8 L306.6,320.5 L306.9,321.2 L308.1,331.6 L308.9,300.5 L309.3,227.9 L309.7,300.5 L310.4,331.6 L310.7,290.1 L311.1,284.1 L312.4,289.7 L312.9,251.2 L314.7,288.1 L315.1,308.7 L317.7,279.6 L318.3,239.2 L320.3,269.2 L320.9,251.8 L323.5,271.6 L323.9,274.7 L326.4,293.4 L326.9,281.4 L328.3,313.5 L328.8,307.5 L331.0,324.9 L331.5,316.8 L332.9,327.2 L333.5,342.4 L335.0,323.7 L335.5,345.0 L337.6,324.1 L338.1,340.6 L340.6,321.6 L341.1,339.4 L342.5,318.5 L342.8,340.8 L344.1,318.9 L344.6,315.4 L347.2,321.1 L347.6,341.0 L349.6,327.0 L349.9,323.5 L351.6,346.5 L352.6,342.2 L353.3,329.3 L353.6,311.3 L353.8,346.6 L354.9,343.0 L355.5,332.0 L355.8,316.8 L356.2,332.0 L356.8,343.0 L357.9,346.6 L359.6,347.0 L362.1,345.8 L363.8,347.5 L365.6,347.5 L367.6,347.5 L369.0,346.2 L370.0,340.1 L370.7,321.9 L371.0,296.5 L371.4,321.9 L372.0,340.1 L373.0,346.2 L374.6,347.5 L377.2,347.2 L379.3,347.5 L380.2,346.1 L381.2,339.2 L381.8,318.8 L382.2,290.3 L382.5,318.8 L383.1,339.2 L384.2,346.1 L385.5,347.1 L387.9,347.5 L389.3,344.0 L390.6,343.6 L392.4,347.5 L394.0,346.2 L395.7,347.5 L396.9,347.5 L399.0,347.5 L401.1,347.5 L402.7,347.5 L404.3,347.0 L405.8,346.4 L408.0,347.5 L410.2,347.5 L412.7,346.5 L414.3,345.3 L416.4,345.1 L418.6,344.6 L420.6,347.5 L422.9,344.5 L424.8,346.8 L426.8,347.5 L428.3,347.5 L429.7,347.5 L432.0,347.5 L433.8,344.0 L435.0,346.1 L436.0,339.6 L436.7,319.9 L437.0,292.6 L437.4,319.9 L438.0,339.6 L439.0,346.1 L441.5,345.5 L443.0,344.4 L445.1,347.5 L446.3,347.5 L448.3,347.5 L449.5,344.2 L450.7,345.4 L452.6,345.9 L454.9,347.0 L456.4,346.6 L457.4,342.9 L458.1,331.6 L458.4,316.0 L458.8,331.6 L459.4,342.9 L460.4,346.6 L461.8,346.8 L463.0,347.5 L464.8,347.5 L466.7,345.4 L468.1,347.5 L470.2,347.5 L471.6,347.5 L473.7,345.2 L476.1,345.4 L478.1,347.5 L480.3,347.5 L482.1,347.5 L483.8,347.5 L486.4,347.5 L488.3,347.5 L489.5,347.5 L491.5,347.5 L494.2,347.5 L496.3,345.0 L497.6,346.2 L498.9,345.0 L501.2,346.1 L503.7,347.5 L504.9,348.0 L506.7,348.0 L507.9,348.0 L510.4,348.0 L511.5,348.0" stroke="#ec2a3a" stroke-dasharray="3.5,2.5"/>
<path d="M288.5,263.2 L289.0,276.0 L291.8,258.3 L292.3,271.6 L295.2,260.8 L295.8,246.7 L298.5,260.3 L298.8,253.4 L300.8,271.0 L301.1,266.1 L303.1,296.5 L303.6,296.9 L306.3,324.8 L306.6,334.3 L309.4,313.3 L309.7,272.2 L312.7,300.5 L313.0,305.6 L314.7,282.9 L315.1,250.8 L317.2,273.8 L317.4,310.2 L319.6,270.4 L320.1,300.9 L322.6,323.4 L323.3,294.1 L323.7,225.5 L324.1,294.1 L324.9,323.4 L326.6,282.8 L327.0,330.2 L327.5,348.0 L328.2,318.5 L328.6,249.7 L329.0,318.5 L329.8,348.0 L331.8,323.0 L332.3,340.0 L334.9,322.2 L335.3,282.0 L337.9,320.0 L338.5,273.9 L341.7,316.0 L342.0,286.5 L344.9,315.3 L345.5,297.3 L348.0,319.9 L348.4,318.7 L350.3,324.6 L350.9,325.2 L353.3,333.5 L353.7,337.9 L355.6,347.5 L356.8,347.0 L357.0,346.9 L358.0,344.7 L358.6,338.2 L359.0,329.3 L359.3,338.2 L359.9,344.7 L361.0,346.9 L361.5,347.5 L364.1,347.5 L365.6,347.5 L367.7,347.5 L369.8,347.5 L371.0,347.5 L373.0,344.9 L373.5,346.1 L374.5,339.4 L375.1,319.1 L375.5,291.1 L375.8,319.1 L376.5,339.4 L377.5,346.1 L379.4,347.5 L381.5,347.1 L383.0,347.5 L384.6,347.5 L385.8,347.5 L386.8,346.8 L387.9,343.9 L388.5,335.5 L388.9,323.8 L389.2,335.5 L389.8,343.9 L390.9,346.8 L392.9,345.5 L395.4,347.5 L397.9,345.8 L399.6,347.5 L402.1,347.5 L403.7,347.5 L405.6,347.5 L407.4,346.8 L409.6,347.5 L412.2,347.5 L413.7,347.5 L414.8,347.5 L416.7,347.5 L418.5,347.5 L420.5,347.5 L422.2,347.5 L424.7,347.5 L427.2,347.5 L428.5,347.5 L431.2,347.5 L432.4,346.3 L434.3,347.5 L436.8,346.6 L437.8,343.1 L438.4,332.4 L438.8,317.6 L439.2,332.4 L439.8,343.1 L440.8,346.6 L441.1,347.5 L442.6,347.5 L444.4,346.9 L445.4,345.1 L446.0,339.8 L446.4,332.4 L446.7,339.8 L447.4,345.1 L448.4,346.9 L449.2,347.5 L450.4,347.5 L453.0,347.5 L455.0,347.4 L456.8,347.5 L458.8,345.8 L460.2,347.5 L460.4,346.7 L461.5,343.5 L462.1,334.0 L462.4,320.7 L462.8,334.0 L463.4,343.5 L464.4,346.7 L465.5,343.5 L466.1,334.0 L466.5,320.7 L466.8,334.0 L467.4,343.5 L468.5,346.7 L469.2,347.5 L470.3,347.5 L472.0,346.6 L473.1,343.0 L473.7,332.0 L474.0,316.8 L474.4,332.0 L475.0,343.0 L476.0,346.6 L476.8,347.5 L478.2,347.5 L479.9,347.5 L481.8,347.5 L484.4,347.5 L485.7,347.5 L487.1,347.5 L489.1,347.1 L491.4,347.5 L492.5,346.5 L493.6,342.4 L494.2,330.1 L494.6,312.9 L494.9,330.1 L495.5,342.4 L496.6,346.5 L497.5,347.5 L500.0,344.0 L502.0,345.2 L503.9,344.0 L505.3,348.0 L506.5,348.0 L508.4,348.0 L511.0,348.0 L511.5,348.0" stroke="#111111"/>
<path d="M288.2,277.8 L289.0,263.8 L289.4,231.0 L289.8,263.8 L290.6,277.8 L291.4,277.8 L292.1,266.1 L292.5,238.8 L292.9,266.1 L293.7,277.8 L294.1,271.8 L297.2,266.6 L297.6,249.4 L299.5,274.1 L299.9,253.9 L302.7,297.0 L303.3,339.3 L306.4,323.8 L306.8,324.3 L309.3,311.3 L309.6,296.0 L312.5,289.8 L313.1,315.2 L313.9,313.2 L314.7,283.8 L315.1,215.4 L315.5,283.8 L316.2,313.2 L316.5,274.5 L318.1,312.9 L318.9,291.1 L319.3,240.4 L319.7,291.1 L320.4,312.9 L323.0,285.4 L323.6,249.0 L326.3,290.3 L326.8,297.4 L329.3,311.8 L329.8,341.0 L332.1,312.9 L332.6,322.8 L335.2,313.4 L335.7,345.4 L338.1,306.9 L338.6,280.4 L340.7,311.0 L341.0,309.5 L341.4,347.0 L342.4,341.0 L343.0,323.0 L343.4,298.1 L343.7,323.0 L344.3,341.0 L345.4,347.0 L347.4,320.0 L348.0,314.3 L351.0,327.1 L351.4,344.5 L354.5,335.8 L354.8,347.4 L357.5,347.5 L360.1,347.5 L362.7,347.5 L365.2,347.5 L367.5,347.5 L369.6,347.5 L369.9,346.5 L370.9,341.9 L371.2,345.6 L372.3,336.2 L372.9,307.8 L373.2,268.4 L373.6,307.8 L374.2,336.2 L375.2,345.6 L375.6,347.0 L377.5,346.7 L378.9,347.5 L381.3,347.5 L383.5,347.5 L385.4,347.5 L387.7,347.5 L389.3,347.5 L391.1,347.5 L393.1,347.5 L394.4,346.8 L395.5,344.2 L396.1,336.3 L396.4,325.4 L396.8,336.3 L397.4,344.2 L398.4,346.8 L399.4,344.4 L400.7,338.9 L402.7,347.5 L405.2,347.5 L406.9,343.5 L409.4,347.5 L410.8,346.2 L412.6,340.9 L415.2,338.3 L417.4,338.7 L419.6,347.5 L422.3,347.5 L424.2,347.5 L426.4,347.5 L428.4,343.3 L430.1,347.5 L432.7,347.5 L434.1,347.5 L435.9,347.5 L437.9,347.5 L439.6,340.5 L441.7,345.8 L442.7,337.0 L443.4,310.6 L443.7,273.9 L444.1,310.6 L444.7,337.0 L445.7,345.8 L446.5,345.1 L448.4,346.5 L449.4,342.2 L450.0,329.3 L450.4,311.3 L450.8,329.3 L451.4,342.2 L452.4,346.5 L454.6,347.5 L455.8,347.5 L458.3,347.5 L459.8,346.3 L462.0,338.8 L463.8,347.5 L465.8,347.5 L467.4,344.4 L468.9,341.8 L470.5,347.5 L472.1,347.5 L473.9,345.9 L476.5,347.5 L478.3,344.6 L479.2,346.5 L480.2,342.5 L480.8,330.4 L481.2,313.7 L481.5,330.4 L482.2,342.5 L483.2,346.5 L484.7,347.5 L486.2,347.5 L487.6,345.8 L488.7,337.3 L489.3,311.7 L489.6,276.2 L490.0,311.7 L490.6,337.3 L491.7,345.8 L492.3,338.6 L494.6,345.7 L496.9,338.6 L499.4,347.5 L501.6,347.5 L502.7,347.5 L505.2,348.0 L506.7,348.0 L509.3,348.0 L511.5,348.0" stroke="#f4c21c"/>
</g>
<rect x="33.00" y="5.00" width="223.50" height="155.50" fill="none" stroke="#222" stroke-width="1.4"/><path d="M33.00,157.70V163.30M70.25,157.70V163.30M107.50,157.70V163.30M144.75,157.70V163.30M182.00,157.70V163.30M219.25,157.70V163.30M256.50,157.70V163.30M51.62,159.10V161.90M88.88,159.10V161.90M126.12,159.10V161.90M163.37,159.10V161.90M200.62,159.10V161.90M237.88,159.10V161.90M30.20,160.50H35.80M30.20,138.29H35.80M30.20,116.07H35.80M30.20,93.86H35.80M30.20,71.64H35.80M30.20,49.43H35.80M30.20,27.21H35.80M30.20,5.00H35.80M31.60,149.39H34.40M31.60,127.18H34.40M31.60,104.96H34.40M31.60,82.75H34.40M31.60,60.54H34.40M31.60,38.32H34.40M31.60,16.11H34.40" stroke="#222" stroke-width="1.1" fill="none"/><text x="33.00" y="173.80" font-size="9.6" text-anchor="middle" fill="#222">-0.2</text><text x="70.25" y="173.80" font-size="9.6" text-anchor="middle" fill="#222">-0.1</text><text x="107.50" y="173.80" font-size="9.6" text-anchor="middle" fill="#222">0.0</text><text x="144.75" y="173.80" font-size="9.6" text-anchor="middle" fill="#222">0.1</text><text x="182.00" y="173.80" font-size="9.6" text-anchor="middle" fill="#222">0.2</text><text x="219.25" y="173.80" font-size="9.6" text-anchor="middle" fill="#222">0.3</text><text x="256.50" y="173.80" font-size="9.6" text-anchor="middle" fill="#222">0.4</text><text x="28.50" y="163.90" font-size="10.0" text-anchor="end" fill="#222">0.0</text><text x="28.50" y="141.69" font-size="10.0" text-anchor="end" fill="#222">0.2</text><text x="28.50" y="119.47" font-size="10.0" text-anchor="end" fill="#222">0.4</text><text x="28.50" y="97.26" font-size="10.0" text-anchor="end" fill="#222">0.6</text><text x="28.50" y="75.04" font-size="10.0" text-anchor="end" fill="#222">0.8</text><text x="28.50" y="52.83" font-size="10.0" text-anchor="end" fill="#222">1.0</text><text x="28.50" y="30.61" font-size="10.0" text-anchor="end" fill="#222">1.2</text><text x="28.50" y="8.40" font-size="10.0" text-anchor="end" fill="#222">1.4</text>
<rect x="288.50" y="5.00" width="223.00" height="155.50" fill="none" stroke="#222" stroke-width="1.4"/><path d="M288.50,157.70V163.30M325.67,157.70V163.30M362.83,157.70V163.30M400.00,157.70V163.30M437.17,157.70V163.30M474.33,157.70V163.30M511.50,157.70V163.30M307.08,159.10V161.90M344.25,159.10V161.90M381.42,159.10V161.90M418.58,159.10V161.90M455.75,159.10V161.90M492.92,159.10V161.90M285.70,160.50H291.30M285.70,138.29H291.30M285.70,116.07H291.30M285.70,93.86H291.30M285.70,71.64H291.30M285.70,49.43H291.30M285.70,27.21H291.30M285.70,5.00H291.30M287.10,149.39H289.90M287.10,127.18H289.90M287.10,104.96H289.90M287.10,82.75H289.90M287.10,60.54H289.90M287.10,38.32H289.90M287.10,16.11H289.90" stroke="#222" stroke-width="1.1" fill="none"/><text x="288.50" y="173.80" font-size="9.6" text-anchor="middle" fill="#222">-0.2</text><text x="325.67" y="173.80" font-size="9.6" text-anchor="middle" fill="#222">-0.1</text><text x="362.83" y="173.80" font-size="9.6" text-anchor="middle" fill="#222">0.0</text><text x="400.00" y="173.80" font-size="9.6" text-anchor="middle" fill="#222">0.1</text><text x="437.17" y="173.80" font-size="9.6" text-anchor="middle" fill="#222">0.2</text><text x="474.33" y="173.80" font-size="9.6" text-anchor="middle" fill="#222">0.3</text><text x="511.50" y="173.80" font-size="9.6" text-anchor="middle" fill="#222">0.4</text><text x="284.00" y="163.90" font-size="10.0" text-anchor="end" fill="#222">0.0</text><text x="284.00" y="141.69" font-size="10.0" text-anchor="end" fill="#222">0.2</text><text x="284.00" y="119.47" font-size="10.0" text-anchor="end" fill="#222">0.4</text><text x="284.00" y="97.26" font-size="10.0" text-anchor="end" fill="#222">0.6</text><text x="284.00" y="75.04" font-size="10.0" text-anchor="end" fill="#222">0.8</text><text x="284.00" y="52.83" font-size="10.0" text-anchor="end" fill="#222">1.0</text><text x="284.00" y="30.61" font-size="10.0" text-anchor="end" fill="#222">1.2</text><text x="284.00" y="8.40" font-size="10.0" text-anchor="end" fill="#222">1.4</text>
<rect x="33.00" y="192.00" width="223.50" height="156.00" fill="none" stroke="#222" stroke-width="1.4"/><path d="M33.00,348.00V350.80M77.70,348.00V350.80M122.40,348.00V350.80M167.10,348.00V350.80M211.80,348.00V350.80M256.50,348.00V350.80M55.35,348.00V349.40M100.05,348.00V349.40M144.75,348.00V349.40M189.45,348.00V349.40M234.15,348.00V349.40M30.20,348.00H33.00M30.20,316.80H33.00M30.20,285.60H33.00M30.20,254.40H33.00M30.20,223.20H33.00M30.20,192.00H33.00M31.60,332.40H33.00M31.60,301.20H33.00M31.60,270.00H33.00M31.60,238.80H33.00M31.60,207.60H33.00" stroke="#222" stroke-width="1.1" fill="none"/><text x="33.80" y="360.80" font-size="11.2" text-anchor="middle" fill="#222">0</text><text x="78.50" y="360.80" font-size="11.2" text-anchor="middle" fill="#222">10</text><text x="123.20" y="360.80" font-size="11.2" text-anchor="middle" fill="#222">20</text><text x="167.90" y="360.80" font-size="11.2" text-anchor="middle" fill="#222">30</text><text x="212.60" y="360.80" font-size="11.2" text-anchor="middle" fill="#222">40</text><text x="257.30" y="360.80" font-size="11.2" text-anchor="middle" fill="#222">50</text><text x="27.80" y="351.74" font-size="11.0" text-anchor="end" fill="#222">0.0</text><text x="27.80" y="320.54" font-size="11.0" text-anchor="end" fill="#222">0.4</text><text x="27.80" y="289.34" font-size="11.0" text-anchor="end" fill="#222">0.8</text><text x="27.80" y="258.14" font-size="11.0" text-anchor="end" fill="#222">1.2</text><text x="27.80" y="226.94" font-size="11.0" text-anchor="end" fill="#222">1.6</text><text x="27.80" y="195.74" font-size="11.0" text-anchor="end" fill="#222">2.0</text>
<rect x="288.50" y="192.00" width="223.00" height="156.00" fill="none" stroke="#222" stroke-width="1.4"/><path d="M288.50,348.00V350.80M333.10,348.00V350.80M377.70,348.00V350.80M422.30,348.00V350.80M466.90,348.00V350.80M511.50,348.00V350.80M310.80,348.00V349.40M355.40,348.00V349.40M400.00,348.00V349.40M444.60,348.00V349.40M489.20,348.00V349.40M285.70,348.00H288.50M285.70,309.00H288.50M285.70,270.00H288.50M285.70,231.00H288.50M285.70,192.00H288.50M287.10,328.50H288.50M287.10,289.50H288.50M287.10,250.50H288.50M287.10,211.50H288.50" stroke="#222" stroke-width="1.1" fill="none"/><text x="289.80" y="360.80" font-size="11.2" text-anchor="middle" fill="#222">0</text><text x="334.40" y="360.80" font-size="11.2" text-anchor="middle" fill="#222">10</text><text x="379.00" y="360.80" font-size="11.2" text-anchor="middle" fill="#222">20</text><text x="423.60" y="360.80" font-size="11.2" text-anchor="middle" fill="#222">30</text><text x="468.20" y="360.80" font-size="11.2" text-anchor="middle" fill="#222">40</text><text x="512.80" y="360.80" font-size="11.2" text-anchor="middle" fill="#222">50</text><text x="283.30" y="351.74" font-size="11.0" text-anchor="end" fill="#222">0.0</text><text x="283.30" y="312.74" font-size="11.0" text-anchor="end" fill="#222">0.5</text><text x="283.30" y="273.74" font-size="11.0" text-anchor="end" fill="#222">1.0</text><text x="283.30" y="234.74" font-size="11.0" text-anchor="end" fill="#222">1.5</text><text x="283.30" y="195.74" font-size="11.0" text-anchor="end" fill="#222">2.0</text>
<text x="160.5" y="184.1" font-size="12.8" text-anchor="middle" fill="#222">Energy (eV)</text>
<text x="416" y="183.8" font-size="12.8" text-anchor="middle" fill="#222">Energy (eV)</text>
<text x="157" y="371.5" font-size="12.8" text-anchor="middle" fill="#222">Frequency (THz)</text>
<text x="412" y="371.5" font-size="12.8" text-anchor="middle" fill="#222">Frequency (THz)</text>
<text transform="translate(10.2,103.0) rotate(-90)" font-size="13" fill="#222"><tspan font-style="italic">T</tspan><tspan font-size="8.5" dy="2.6">e</tspan><tspan dy="-2.6"> (</tspan><tspan font-style="italic">E</tspan>)</text>
<text transform="translate(10.2,286.6) rotate(-90)" font-size="13" fill="#222"><tspan font-style="italic">T</tspan><tspan font-size="8.5" font-style="italic" dy="2.6">ph</tspan><tspan dy="-2.6" dx="1.6">(ω)</tspan></text>
<text x="50.5" y="18.0" font-size="11" fill="#222"><tspan font-style="italic">θ</tspan>=0°</text>
<text x="306.2" y="18.0" font-size="11" fill="#222"><tspan font-style="italic">θ</tspan>=45°</text>
<text x="51.3" y="206.4" font-size="11" fill="#222"><tspan font-style="italic">θ</tspan>=0°</text>
<text x="306.6" y="206.4" font-size="11" fill="#222"><tspan font-style="italic">θ</tspan>=45°</text>
<text x="236.6" y="20.3" font-size="13" fill="#222">(a)</text>
<text x="492.2" y="20.3" font-size="13" fill="#222">(b)</text>
<text x="236.8" y="209.2" font-size="13" fill="#222" style="stroke-width:0.45px">(c)</text>
<text x="492.1" y="209.2" font-size="13" fill="#222" style="stroke-width:0.45px">(d)</text>
<text x="134.8" y="14.3" font-size="10" fill="#222">LUMO</text>
<text x="196.7" y="14.3" font-size="10" fill="#222">LUMO+2</text>
<text x="373" y="14.3" font-size="10" fill="#222">LUMO</text>
<text x="406.3" y="14.3" font-size="10" fill="#222">LUMO+2</text>
<path d="M144.7,17.0V24.5" stroke="#222" stroke-width="1.2"/>
<path d="M212.1,17.0V24.5" stroke="#222" stroke-width="1.2"/>
<path d="M390.8,17.0V24.5" stroke="#222" stroke-width="1.2"/>
<path d="M414.8,17.0V24.5" stroke="#222" stroke-width="1.2"/>
<path d="M157.6,27.3V38.4" stroke="#ec2a3a" stroke-width="1.2" stroke-dasharray="4,3"/>
<path d="M199.0,27.3V38.4" stroke="#ec2a3a" stroke-width="1.2" stroke-dasharray="4,3"/>
<path d="M394.4,27.3V38.4" stroke="#ec2a3a" stroke-width="1.2" stroke-dasharray="4,3"/>
<path d="M403.8,27.3V38.4" stroke="#ec2a3a" stroke-width="1.2" stroke-dasharray="4,3"/>
<path d="M159.5,42.0V51.4" stroke="#2323f0" stroke-width="1.2"/>
<path d="M205.9,42.0V51.4" stroke="#2323f0" stroke-width="1.2"/>
<path d="M392.6,38.6V46.6" stroke="#2323f0" stroke-width="1.2"/>
<path d="M402.0,38.6V46.6" stroke="#2323f0" stroke-width="1.2"/>
<path d="M43,30.0H67.4" stroke="#1e8a1e" stroke-width="1.3"/>
<text x="70" y="33.5" font-size="10.3" fill="#222">TM-Mn-2</text>
<path d="M43,42.8H67.4" stroke="#2323f0" stroke-width="1.3"/>
<text x="70" y="46.3" font-size="10.3" fill="#222">TM-Fe-2</text>
<path d="M43,56.0H67.4" stroke="#ec2a3a" stroke-width="1.3" stroke-dasharray="4.6,4.6"/>
<text x="70" y="59.5" font-size="10.3" fill="#222">TM-Ru-2</text>
<path d="M43,69.0H67.4" stroke="#111111" stroke-width="1.3"/>
<text x="70" y="72.5" font-size="10.3" fill="#222">TM-Os-2</text>
<path d="M43,81.8H67.4" stroke="#f4c21c" stroke-width="1.3"/>
<text x="70" y="85.3" font-size="10.3" fill="#222">TM-Co-2</text>
</svg></body></html>
